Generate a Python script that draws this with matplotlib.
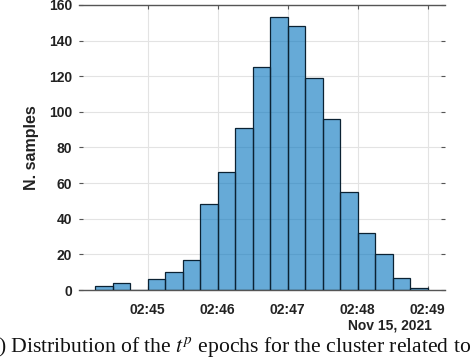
import matplotlib
matplotlib.use('Agg')
import matplotlib.pyplot as plt
import matplotlib.dates as mdates
import numpy as np
import pandas as pd

# histogram of t^p epochs, 15 s bins
bin_start = '2021-11-15 02:44:15'
bin_end = '2021-11-15 02:49:00'
counts = [2, 4, 0, 6, 10, 17, 48, 66, 91, 125, 153, 148, 119, 96, 55, 32, 20, 7, 1]
x_ticks = ['02:45', '02:46', '02:47', '02:48', '02:49']
y_ticks = [0, 20, 40, 60, 80, 100, 120, 140, 160]
date_label = 'Nov 15, 2021'
ylabel = 'N. samples'
caption = '(b) Distribution of the $t^p$ epochs for the cluster related to'

edges = pd.date_range(bin_start, bin_end, freq='15s')
edges_num = mdates.date2num(edges.to_pydatetime())

plt.rcParams['font.family'] = ['Liberation Sans', 'DejaVu Sans']
plt.rcParams['mathtext.fontset'] = 'stix'

fig = plt.figure(figsize=(4.74, 3.62), dpi=100)
ax = fig.add_axes([79/474, 1 - 290/362, (445 - 79)/474, (290 - 5)/362])

ax.grid(True, color='#e3e3e3', linewidth=0.8, zorder=0)
ax.set_axisbelow(True)
ax.bar(edges_num[:-1], counts, width=np.diff(edges_num), align='edge',
       color='#0072BD', alpha=0.6, edgecolor='none', zorder=2)
ax.bar(edges_num[:-1], counts, width=np.diff(edges_num), align='edge',
       color='none', edgecolor='#0b2233', linewidth=0.9, zorder=3)

ax.set_ylim(0, 160)
ax.set_yticks(y_ticks)
tick_pos = mdates.date2num(pd.to_datetime(['2021-11-15 ' + t for t in x_ticks]).to_pydatetime())
ax.set_xticks(tick_pos)
ax.set_xticklabels(x_ticks)
ax.set_xlim(mdates.date2num(pd.Timestamp('2021-11-15 02:44:01').to_pydatetime()),
            mdates.date2num(pd.Timestamp('2021-11-15 02:49:15').to_pydatetime()))

for s in ['left', 'right']:
    ax.spines[s].set_visible(False)
for s in ['top', 'bottom']:
    ax.spines[s].set_color('#555555')
    ax.spines[s].set_linewidth(1.0)

ax.tick_params(axis='both', direction='in', length=3, color='#555555', width=0.8,
               labelsize=10, pad=5)
ax.tick_params(axis='y', right=True)
ax.tick_params(axis='x', top=True, pad=9)
for lab in ax.get_xticklabels() + ax.get_yticklabels():
    lab.set_fontweight('bold')
    lab.set_color('#222222')

ax.set_ylabel(ylabel, fontsize=11.5, fontweight='bold', color='#222222', labelpad=7)

fig.text(432/474, 1 - 330/362, date_label, ha='right', va='baseline',
         fontsize=10, fontweight='bold', color='#222222')
fig.text(-0.043, 1 - 352/362, caption, ha='left', va='baseline',
         fontsize=15.6, family=['Liberation Serif', 'DejaVu Serif'], color='#111111')

fig.savefig('out.png', dpi=100)
